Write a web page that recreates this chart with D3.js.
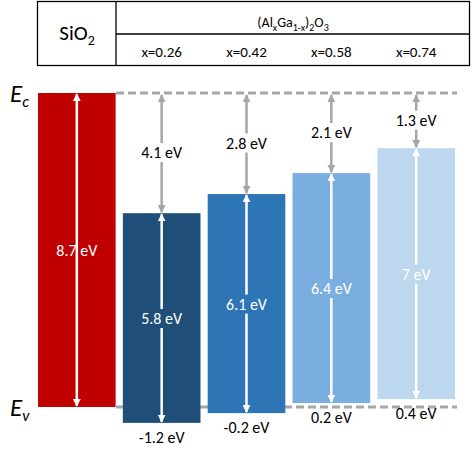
<!DOCTYPE html><html><head><meta charset="utf-8"><script src="https://d3js.org/d3.v7.min.js"></script>
<style>body{margin:0;background:#fff}text{font-family:Calibri,Carlito,"Open Sans",sans-serif}</style></head><body><svg id="c" width="474" height="451"></svg>
<script>
const materials=["SiO2","x=0.26","x=0.42","x=0.58","x=0.74"];
const bandTop=[8.7,5.37,5.90,6.48,7.17];      // visual band top (eV-scale units)
const bandBottom=[0,-0.44,-0.17,0.11,0.22];   // visual band bottom
const gapLabels=["8.7 eV","5.8 eV","6.1 eV","6.4 eV","7 eV"];
const cbOffsets=[null,"4.1 eV","2.8 eV","2.1 eV","1.3 eV"];
const vbOffsets=[null,"-1.2 eV","-0.2 eV","0.2 eV","0.4 eV"];
const colors=["#c00000","#1f4e79","#2e75b6","#7aaee0","#bdd7ee"];
const svg=d3.select("#c");
const y=d3.scaleLinear().domain([0,8.7]).range([407,93]);
const x=d3.scaleBand().domain(materials).range([38,455]).paddingInner(0.085);
const defs=svg.append("defs");
[["w","#fff"],["g","#a6a6a6"]].forEach(([id,c])=>{
 defs.append("marker").attr("id",id).attr("viewBox","0 0 10 10").attr("refX",9).attr("refY",5).attr("markerWidth",3.2).attr("markerHeight",3.2).attr("orient","auto-start-reverse").append("path").attr("d","M0,0L10,5L0,10z").attr("fill",c);});
// table
svg.append("rect").attr("x",37.5).attr("y",1.5).attr("width",432).attr("height",64).attr("fill","none").attr("stroke","#000").attr("stroke-width",1.3);
svg.append("line").attr("x1",116).attr("x2",116).attr("y1",1.5).attr("y2",65.5).attr("stroke","#000").attr("stroke-width",1.3);
svg.append("line").attr("x1",116).attr("x2",469.5).attr("y1",34).attr("y2",34).attr("stroke","#000").attr("stroke-width",1.3);
const s=svg.append("text").attr("x",77).attr("y",40).attr("text-anchor","middle").attr("font-size",21);
s.append("tspan").text("SiO");s.append("tspan").attr("font-size",14).attr("dy",5).text("2");
const h=svg.append("text").attr("x",293).attr("y",27).attr("text-anchor","middle").attr("font-size",14);
[["(Al",0],["x",1],["Ga",0],["1-x",1],[")",0],["2",1],["O",0],["3",1]].forEach(([t,sub],i,arr)=>{
 const prev=i>0?arr[i-1][1]:0;h.append("tspan").attr("dy",sub&&!prev?4:(!sub&&prev?-4:0)).attr("font-size",sub?10:14).text(t);});
materials.slice(1).forEach(m=>svg.append("text").attr("x",x(m)+x.bandwidth()/2).attr("y",57).attr("text-anchor","middle").attr("font-size",15).text(m));
// level lines
[8.7,0].forEach(v=>svg.append("line").attr("x1",116).attr("x2",457).attr("y1",y(v)).attr("y2",y(v)).attr("stroke","#a6a6a6").attr("stroke-width",3).attr("stroke-dasharray","8,4"));
const ec=svg.append("text").attr("x",10).attr("y",102).attr("font-size",25).attr("font-style","italic");ec.append("tspan").text("E");ec.append("tspan").attr("font-size",16).attr("dy",5).text("c");
const ev=svg.append("text").attr("x",10).attr("y",416).attr("font-size",25).attr("font-style","italic");ev.append("tspan").text("E");ev.append("tspan").attr("font-size",16).attr("dy",5).text("v");
materials.forEach((m,i)=>{
 const cx=x(m)+x.bandwidth()/2;
 svg.append("rect").attr("x",x(m)).attr("width",x.bandwidth()).attr("y",y(bandTop[i])).attr("height",y(bandBottom[i])-y(bandTop[i])).attr("fill",colors[i]);
 svg.append("line").attr("x1",cx).attr("x2",cx).attr("y1",y(bandTop[i])+1).attr("y2",y(bandBottom[i])-1).attr("stroke","#fff").attr("stroke-width",2.5).attr("marker-start","url(#w)").attr("marker-end","url(#w)");
 const my=(y(bandTop[i])+y(bandBottom[i]))/2;
 const t=svg.append("text").attr("x",cx).attr("y",my+6).attr("text-anchor","middle").attr("font-size",16).attr("fill","#fff").text(gapLabels[i]);
 if(i>0){
  const bb=t.node().getBBox();
  svg.insert("rect","text:last-child").attr("x",bb.x-2).attr("y",bb.y).attr("width",bb.width+4).attr("height",bb.height).attr("fill",colors[i]);
  svg.append("line").attr("x1",cx).attr("x2",cx).attr("y1",y(8.7)+2).attr("y2",y(bandTop[i])-1).attr("stroke","#a6a6a6").attr("stroke-width",2.5).attr("marker-start","url(#g)").attr("marker-end","url(#g)");
  const gy=(y(8.7)+y(bandTop[i]))/2;
  svg.append("rect").attr("x",cx-24).attr("y",gy-10).attr("width",48).attr("height",19).attr("fill","#fff");
  svg.append("text").attr("x",cx).attr("y",gy+5).attr("text-anchor","middle").attr("font-size",16).text(cbOffsets[i]);
  svg.append("text").attr("x",cx).attr("y",y(bandBottom[i])+20).attr("text-anchor","middle").attr("font-size",16).text(vbOffsets[i]);
 }
});
</script></body></html>
